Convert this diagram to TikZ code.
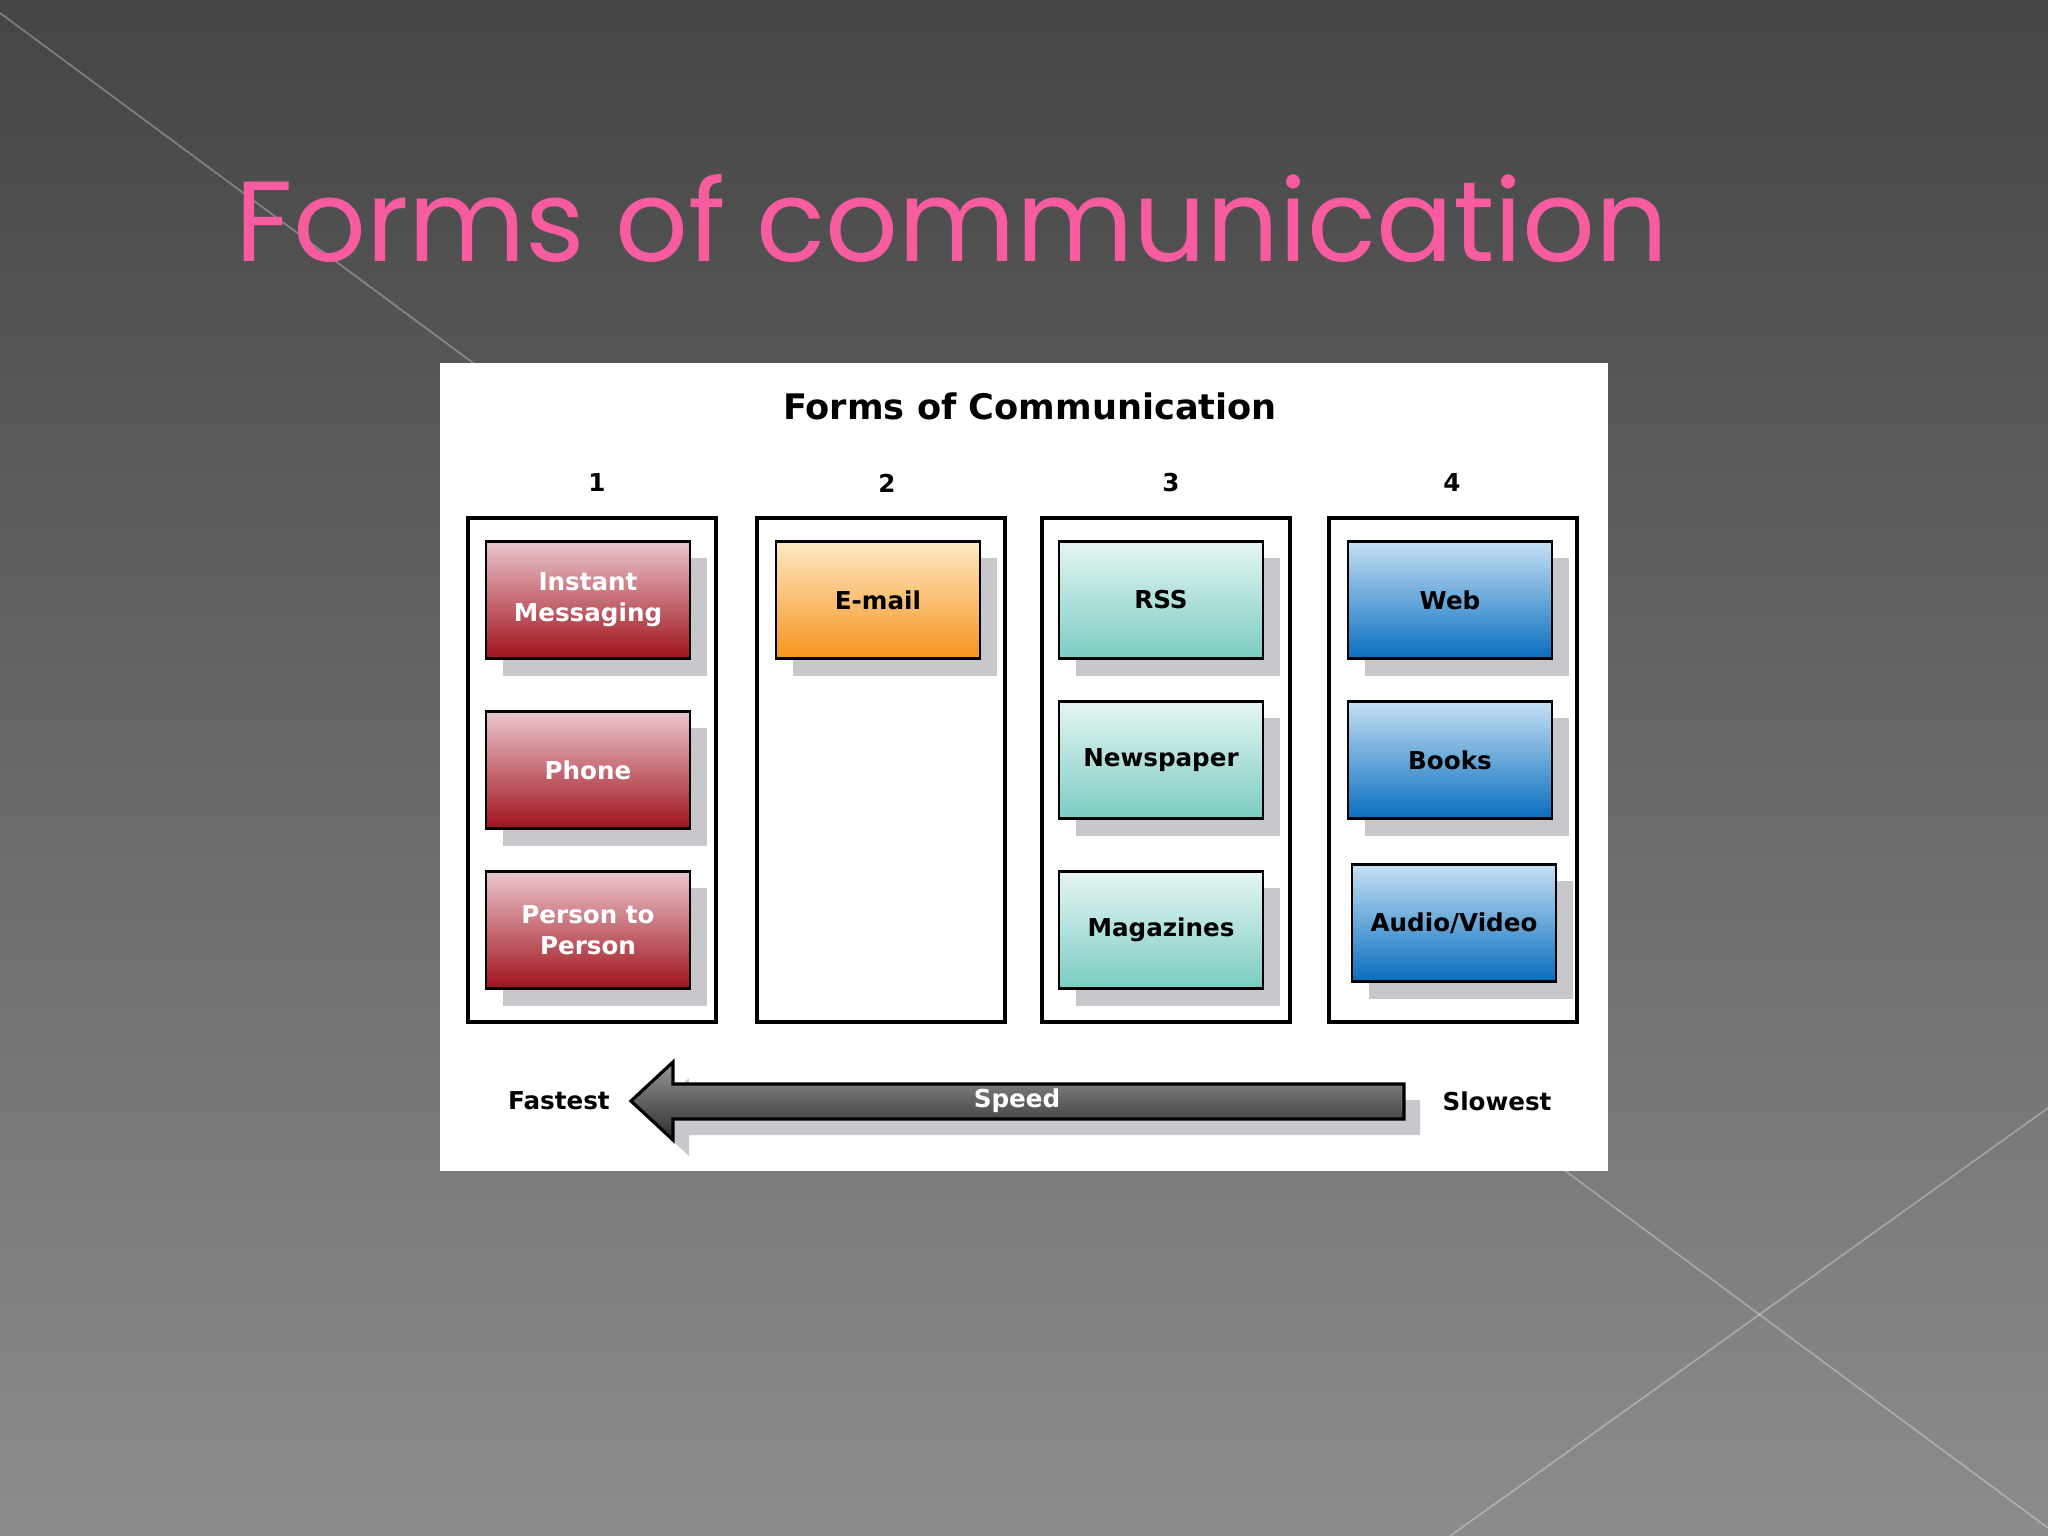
\documentclass[tikz,border=0pt]{standalone}
\usepackage{fontspec}
\setmainfont{DejaVu Sans}
\newfontfamily\slidefont{Poppins}
\usetikzlibrary{positioning,shadows}
\definecolor{FcBgTop}{RGB}{68,68,69}
\definecolor{FcBgBottom}{RGB}{141,140,142}
\definecolor{FcPink}{RGB}{247,92,160}
\definecolor{FcShadow}{RGB}{200,200,204}
\definecolor{FcRedTop}{RGB}{234,198,206}
\definecolor{FcRedBottom}{RGB}{160,18,28}
\definecolor{FcOrangeTop}{RGB}{253,233,198}
\definecolor{FcOrangeBottom}{RGB}{246,148,30}
\definecolor{FcTealTop}{RGB}{230,245,243}
\definecolor{FcTealBottom}{RGB}{122,204,194}
\definecolor{FcBlueTop}{RGB}{198,225,243}
\definecolor{FcBlueBottom}{RGB}{8,108,190}
\definecolor{FcArrowTop}{RGB}{150,150,152}
\definecolor{FcArrowBottom}{RGB}{45,45,47}
\tikzset{
  fc/frame/.style={
    draw=black,
    line width=1.1pt,
    fill=white,
    minimum width=2.48cm,
    minimum height=5.04cm
  },
  fc/item/.style={
    draw=black,
    line width=0.7pt,
    minimum width=2.04cm,
    minimum height=1.17cm,
    align=center,
    font=\bfseries\fontsize{7}{8.8}\selectfont,
    drop shadow={fill=FcShadow, opacity=1, shadow xshift=0.17cm, shadow yshift=-0.17cm}
  },
  fc/red/.style={fc/item, top color=FcRedTop, bottom color=FcRedBottom, text=white},
  fc/orange/.style={fc/item, top color=FcOrangeTop, bottom color=FcOrangeBottom, text=black},
  fc/teal/.style={fc/item, top color=FcTealTop, bottom color=FcTealBottom, text=black},
  fc/blue/.style={fc/item, top color=FcBlueTop, bottom color=FcBlueBottom, text=black},
  fc/label/.style={font=\bfseries\fontsize{7}{8.8}\selectfont, text=black},
  fc/title/.style={font=\bfseries\fontsize{10}{12}\selectfont, text=black}
}
\begin{document}
\begin{tikzpicture}[x=0.01cm,y=-0.01cm]
  \useasboundingbox (0,0) rectangle (2048,1536);
  \shade[top color=FcBgTop, bottom color=FcBgBottom] (-20,-20) rectangle (2068,1556);
  \draw[white, opacity=0.3, line width=0.5pt] (0,13) -- (2048,1528);
  \draw[white, opacity=0.3, line width=0.5pt] (1450,1536) -- (2048,1108);
  \node[anchor=base west, inner sep=0pt, text=FcPink, font=\slidefont\fontsize{32.4}{40}\selectfont] (slide) at (235,261) {Forms of communication};
  \fill[white] (440,363) rectangle (1608,1171);
  \node[fc/title] (title) at (1030,406) {Forms of Communication};
  \node[fc/label] (l1) at (597,483) {1};
  \node[fc/label] (l2) at (887,483) {2};
  \node[fc/label] (l3) at (1171,483) {3};
  \node[fc/label] (l4) at (1452,483) {4};
  \node[fc/frame] (c1) at (592,770) {};
  \node[fc/frame] (c2) at (881,770) {};
  \node[fc/frame] (c3) at (1166,770) {};
  \node[fc/frame] (c4) at (1453,770) {};
  \node[fc/red] (im) at (588,600) {Instant\\Messaging};
  \node[fc/red] (phone) at (588,770) {Phone};
  \node[fc/red] (p2p) at (588,930) {Person to\\Person};
  \node[fc/orange] (email) at (878,600) {E-mail};
  \node[fc/teal] (rss) at (1161,600) {RSS};
  \node[fc/teal] (news) at (1161,760) {Newspaper};
  \node[fc/teal] (mags) at (1161,930) {Magazines};
  \node[fc/blue] (web) at (1450,600) {Web};
  \node[fc/blue] (books) at (1450,760) {Books};
  \node[fc/blue] (av) at (1454,923) {Audio/Video};
  \fill[FcShadow] (647,1117) -- (689,1078) -- (689,1100) -- (1420,1100) -- (1420,1135) -- (689,1135) -- (689,1156) -- cycle;
  \draw[black, line width=0.9pt, top color=FcArrowTop, bottom color=FcArrowBottom] (631,1101) -- (673,1062) -- (673,1084) -- (1404,1084) -- (1404,1119) -- (673,1119) -- (673,1140) -- cycle;
  \node[fc/label, text=white] (speed) at (1017,1101) {Speed};
  \node[fc/label] (fast) at (559,1101) {Fastest};
  \node[fc/label] (slow) at (1497,1101) {Slowest};
\end{tikzpicture}
\end{document}
